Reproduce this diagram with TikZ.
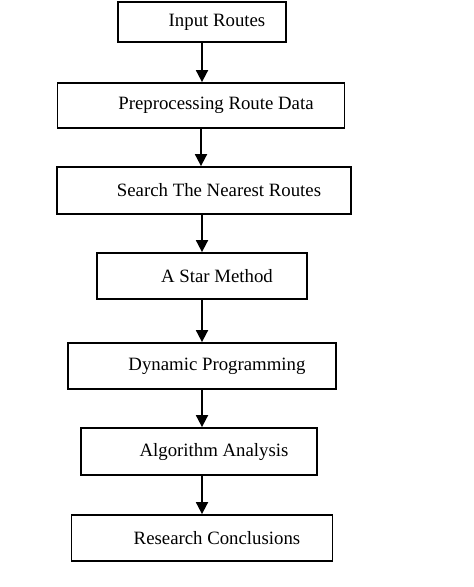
\documentclass[tikz,border=0pt]{standalone}
\usepackage{fontspec}
\setmainfont{Liberation Serif}
\usetikzlibrary{arrows.meta}

\tikzset{
  stage/.style={rectangle, draw=black, line width=1.8pt, fill=white, inner sep=0pt,
                font=\fontsize{18.8}{22}\selectfont},
}

\begin{document}
\begin{tikzpicture}[x=1pt, y=1pt, >={Triangle[length=12pt,width=12pt]}, line width=1.8pt]
                    \useasboundingbox (0, 0) rectangle (474, -587);

                    \node (IR) [stage, minimum width=168pt, minimum height=40pt] at (202, -22) {\hspace*{30pt}Input Routes};
                    \node (PRD) [stage, minimum width=287pt, minimum height=45pt] at (201, -105.5) {\hspace*{30pt}Preprocessing Route Data};
                    \node (SNR) [stage, minimum width=294pt, minimum height=47pt] at (204, -190.5) {\hspace*{30pt}Search The Nearest Routes};
                    \node (ASM) [stage, minimum width=210pt, minimum height=46pt] at (202, -276) {\hspace*{30pt}A Star Method};
                    \node (DP) [stage, minimum width=268pt, minimum height=46pt] at (202, -366) {\hspace*{30pt}Dynamic Programming};
                    \node (AA) [stage, minimum width=236pt, minimum height=47pt] at (199, -451.5) {\hspace*{30pt}Algorithm Analysis};
                    \node (RC) [stage, minimum width=261pt, minimum height=46pt] at (202, -538) {\hspace*{30pt}Research Conclusions};

                    \draw[->] (IR.south) -- (IR.south |- PRD.north);
                    \draw[->] (PRD.south) -- (PRD.south |- SNR.north);
                    \draw[->] (ASM.north |- SNR.south) -- (ASM.north);
                    \draw[->] (ASM.south) -- (ASM.south |- DP.north);
                    \draw[->] (DP.south) -- (DP.south |- AA.north);
                    \draw[->] (RC.north |- AA.south) -- (RC.north);
                \end{tikzpicture}
\end{document}
